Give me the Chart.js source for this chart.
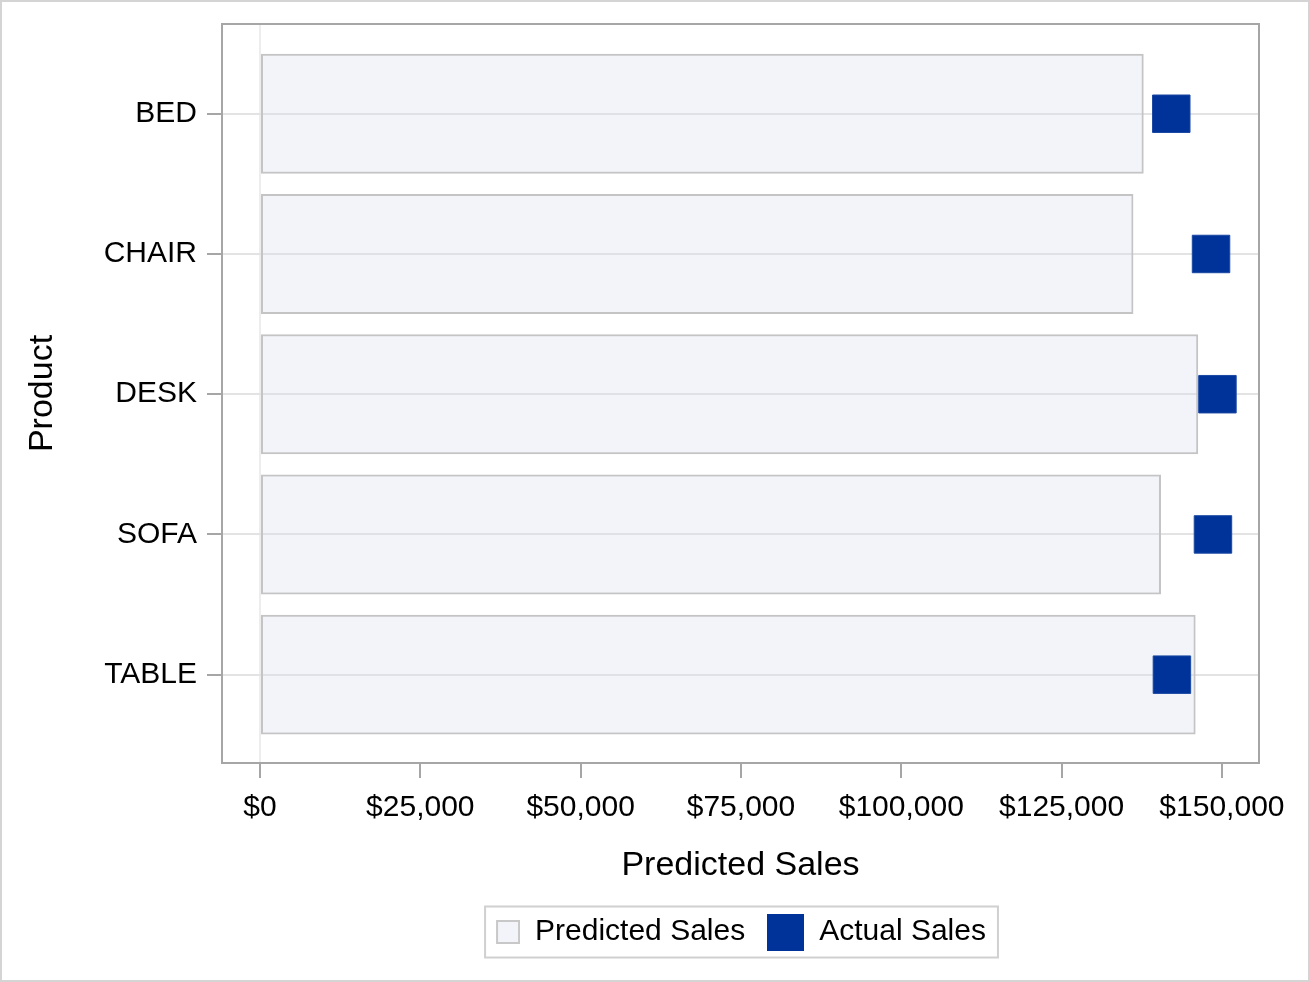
<!DOCTYPE html>
<html>
<head>
<meta charset="utf-8">
<title>Predicted vs Actual Sales</title>
<script src="https://cdn.jsdelivr.net/npm/chart.js@4"></script>
<style>
    body { margin: 0; background: #fff; }
    #wrap { width: 1310px; height: 982px; }
</style>
</head>
<body>
<div id="wrap"><canvas id="salesChart" width="1310" height="982"></canvas></div>
<script>
// data
const categories = ['BED', 'CHAIR', 'DESK', 'SOFA', 'TABLE'];
const predictedSales = [137800, 136200, 146300, 140500, 145900];
const actualSales = [142100, 148300, 149300, 148600, 142200];
const xTickValues = [0, 25000, 50000, 75000, 100000, 125000, 150000];

const FONT = "'Liberation Sans', Arial, sans-serif";
const BLUE = '#003399';
const AXIS_GRAY = '#a6a6a6';

Chart.defaults.font.family = FONT;
Chart.defaults.color = '#000';

// legend swatches (predicted: small outlined box, actual: big filled square)
function makeSwatch(w, h, draw) {
    const c = document.createElement('canvas');
    c.width = w;
    c.height = h;
    draw(c.getContext('2d'));
    return c;
}
const predSwatch = makeSwatch(37, 24, g => {
    g.fillStyle = '#f3f4f9';
    g.fillRect(13, 0, 24, 24);
    g.strokeStyle = '#c8c8c8';
    g.lineWidth = 2;
    g.strokeRect(14, 1, 22, 22);
});
const actualSwatch = makeSwatch(37, 37, g => {
    g.fillStyle = BLUE;
    g.fillRect(0, 0, 37, 37);
});
const swatches = [predSwatch, actualSwatch];

// white page + thin outer border
const pageFrame = {
    id: 'pageFrame',
    afterLayout(chart) {
        // predicted swatch sits to the right of its slot, nudge legend to stay centred
        chart.legend.left -= 6;
        chart.legend.right -= 6;
    },
    beforeDraw(chart) {
        const ctx = chart.ctx;
        ctx.save();
        ctx.fillStyle = '#fff';
        ctx.fillRect(0, 0, chart.width, chart.height);
        ctx.strokeStyle = '#d4d4d4';
        ctx.lineWidth = 2;
        ctx.strokeRect(1, 1, chart.width - 2, chart.height - 2);
        ctx.restore();
    }
};

// box around the plot area and around the legend
const frames = {
    id: 'frames',
    afterDraw(chart) {
        const ctx = chart.ctx;
        const a = chart.chartArea;
        ctx.save();
        ctx.strokeStyle = AXIS_GRAY;
        ctx.lineWidth = 2;
        ctx.strokeRect(a.left, a.top, a.right - a.left, a.bottom - a.top);

        const boxes = chart.legend.legendHitBoxes;
        if (boxes && boxes.length) {
            const first = boxes[0];
            const last = boxes[boxes.length - 1];
            const left = first.left + 2;
            const right = last.left + last.width + 12;
            const cy = first.top + 15;
            ctx.strokeStyle = '#d0d0d0';
            ctx.strokeRect(left, cy - 25.5, right - left, 51);
        }
        ctx.restore();
    }
};

new Chart(document.getElementById('salesChart'), {
    type: 'bar',
    data: {
        datasets: [{
            label: 'Predicted Sales',
            data: predictedSales.map((v, i) => ({ x: v, y: i })),
            backgroundColor: 'rgba(215, 221, 240, 0.33)',
            borderColor: '#c4c4c4',
            borderWidth: 2,
            borderSkipped: false,
            barPercentage: 0.855,
            categoryPercentage: 1,
            order: 2
        }, {
            type: 'scatter',
            label: 'Actual Sales',
            data: actualSales.map((v, i) => ({ x: v, y: i })),
            pointStyle: 'rect',
            pointRadius: 26.5,
            pointHoverRadius: 26.5,
            backgroundColor: BLUE,
            borderColor: '#1a47a3',
            borderWidth: 1,
            order: 1
        }]
    },
    options: {
        indexAxis: 'y',
        responsive: false,
        animation: false,
        layout: {
            autoPadding: false,
            padding: { left: 2, right: 51, top: 24, bottom: 25 }
        },
        scales: {
            x: {
                type: 'linear',
                min: -5925,
                max: 155780,
                afterBuildTicks: axis => { axis.ticks = xTickValues.map(v => ({ value: v })); },
                afterFit: axis => { axis.height = 132; },
                ticks: {
                    font: { size: 30 },
                    color: '#000',
                    padding: 12,
                    maxRotation: 0,
                    autoSkip: false,
                    callback: v => '$' + Number(v).toLocaleString('en-US')
                },
                grid: {
                    color: c => (c.tick && c.tick.value === 0 ? '#ededed' : 'rgba(0,0,0,0)'),
                    lineWidth: 2,
                    tickLength: 15,
                    tickColor: AXIS_GRAY,
                    tickWidth: 2
                },
                border: { display: false },
                title: {
                    display: true,
                    text: 'Predicted Sales',
                    font: { size: 34 },
                    color: '#000',
                    padding: { top: 0, bottom: 9 }
                }
            },
            y: {
                type: 'linear',
                reverse: true,
                min: -0.64,
                max: 4.63,
                offset: false,
                afterBuildTicks: axis => { axis.ticks = categories.map((c, i) => ({ value: i })); },
                afterFit: axis => {
                    axis.width = 220;
                    axis.paddingTop = 0;
                    axis.paddingBottom = 0;
                },
                ticks: {
                    font: { size: 30 },
                    color: '#000',
                    padding: 10,
                    autoSkip: false,
                    callback: v => categories[v]
                },
                grid: {
                    offset: false,
                    color: '#e3e3e3',
                    lineWidth: 2,
                    tickLength: 15,
                    tickColor: AXIS_GRAY,
                    tickWidth: 2
                },
                border: { display: false },
                title: {
                    display: true,
                    text: 'Product',
                    font: { size: 34 },
                    color: '#000',
                    padding: { top: 20, bottom: 0 }
                }
            }
        },
        plugins: {
            legend: {
                position: 'bottom',
                fullSize: false,
                labels: {
                    font: { size: 30 },
                    color: '#000',
                    usePointStyle: true,
                    pointStyleWidth: 37,
                    padding: 22,
                    generateLabels: chart => chart.data.datasets.map((ds, i) => ({
                        text: ds.label,
                        pointStyle: swatches[i],
                        fillStyle: 'rgba(0,0,0,0)',
                        strokeStyle: 'rgba(0,0,0,0)',
                        lineWidth: 0,
                        hidden: false,
                        datasetIndex: i,
                        fontColor: '#000'
                    }))
                }
            },
            tooltip: { enabled: false }
        }
    },
    plugins: [pageFrame, frames]
});
</script>
</body>
</html>
